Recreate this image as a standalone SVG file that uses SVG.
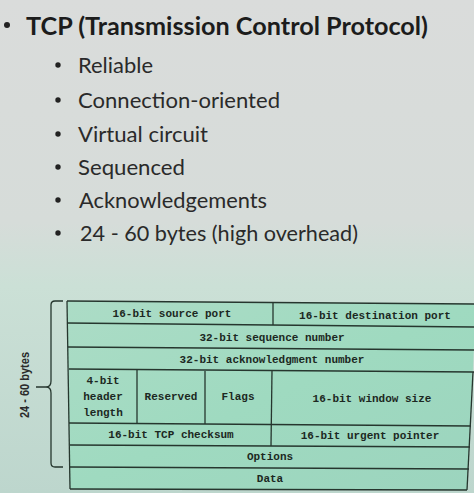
<svg xmlns="http://www.w3.org/2000/svg" width="474" height="493" viewBox="0 0 474 493">
  <defs>
    <linearGradient id="bg" x1="0" y1="0" x2="0" y2="1">
      <stop offset="0" stop-color="#dadcdb"/>
      <stop offset="0.45" stop-color="#d6dcd9"/>
      <stop offset="0.58" stop-color="#cbe0d6"/>
      <stop offset="1" stop-color="#bdd6cd"/>
    </linearGradient>
    <linearGradient id="tbl" x1="0" y1="0" x2="1" y2="1">
      <stop offset="0" stop-color="#acdcc6"/>
      <stop offset="0.5" stop-color="#9fdac0"/>
      <stop offset="1" stop-color="#9cd4be"/>
    </linearGradient>
    <style>
      .title { font-family: Lato, "Liberation Sans", sans-serif; font-weight: bold; font-size: 25px; fill: #1c1c1c; }
      .item { font-family: Lato, "Liberation Sans", sans-serif; font-size: 22px; fill: #2a2a2a; }
      .dot { fill: #222; }
      .cell { font-family: "Liberation Mono", "DejaVu Sans Mono", monospace; font-weight: bold; font-size: 11px; fill: #1c2822; text-anchor: middle; }
      .ln { stroke: #26362e; stroke-width: 1.3; fill: none; }
      .side { font-family: "Liberation Sans", sans-serif; font-weight: bold; font-size: 12px; fill: #2a2a2a; text-anchor: middle; }
    </style>
  </defs>
  <rect x="0" y="0" width="474" height="493" fill="url(#bg)"/>

  <g id="bullets">
    <circle class="dot" cx="7" cy="25" r="3"/>
    <text class="title" x="26" y="35" textLength="402" lengthAdjust="spacingAndGlyphs">TCP (Transmission Control Protocol)</text>
    <circle class="dot" cx="58" cy="65" r="2.7"/>
    <text class="item" x="78" y="73" textLength="75" lengthAdjust="spacingAndGlyphs">Reliable</text>
    <circle class="dot" cx="58" cy="100" r="2.7"/>
    <text class="item" x="78" y="108" textLength="202" lengthAdjust="spacingAndGlyphs">Connection-oriented</text>
    <circle class="dot" cx="58" cy="134" r="2.7"/>
    <text class="item" x="78" y="142" textLength="130" lengthAdjust="spacingAndGlyphs">Virtual circuit</text>
    <circle class="dot" cx="58" cy="167" r="2.7"/>
    <text class="item" x="78" y="175" textLength="107" lengthAdjust="spacingAndGlyphs">Sequenced</text>
    <circle class="dot" cx="58" cy="200" r="2.7"/>
    <text class="item" x="79" y="208" textLength="188" lengthAdjust="spacingAndGlyphs">Acknowledgements</text>
    <circle class="dot" cx="58" cy="233" r="2.7"/>
    <text class="item" x="80" y="241" textLength="278" lengthAdjust="spacingAndGlyphs">24 - 60 bytes (high overhead)</text>
  </g>

  <g id="table">
    <polygon points="67,301 476,304 467,490 70,489" fill="url(#tbl)"/>
    <g id="grid">
      <line class="ln" x1="67" y1="301" x2="476" y2="304"/>
      <line class="ln" x1="67" y1="323" x2="476" y2="327"/>
      <line class="ln" x1="68" y1="347" x2="476" y2="350"/>
      <line class="ln" x1="69" y1="369" x2="474" y2="372"/>
      <line class="ln" x1="69" y1="423" x2="471" y2="426"/>
      <line class="ln" x1="70" y1="445" x2="470" y2="447"/>
      <line class="ln" x1="70" y1="467" x2="469" y2="469"/>
      <line class="ln" x1="70" y1="489" x2="467" y2="490"/>
      <line class="ln" x1="67" y1="301" x2="70" y2="489"/>
      <line class="ln" x1="473" y1="372" x2="467" y2="490"/>
      <line class="ln" x1="273" y1="302" x2="273" y2="325"/>
      <line class="ln" x1="137" y1="370" x2="137" y2="424"/>
      <line class="ln" x1="205" y1="371" x2="205" y2="424"/>
      <line class="ln" x1="272" y1="371" x2="271" y2="446"/>
    </g>
    <g id="fields">
      <text class="cell" x="172" y="317">16-bit source port</text>
      <text class="cell" x="375" y="319">16-bit destination port</text>
      <text class="cell" x="272" y="341">32-bit sequence number</text>
      <text class="cell" x="272" y="363">32-bit acknowledgment number</text>
      <text class="cell" x="103" y="384">4-bit</text>
      <text class="cell" x="103" y="400">header</text>
      <text class="cell" x="103" y="416">length</text>
      <text class="cell" x="171" y="400">Reserved</text>
      <text class="cell" x="238" y="400">Flags</text>
      <text class="cell" x="372" y="402">16-bit window size</text>
      <text class="cell" x="171" y="438">16-bit TCP checksum</text>
      <text class="cell" x="370" y="439">16-bit urgent pointer</text>
      <text class="cell" x="270" y="460">Options</text>
      <text class="cell" x="270" y="482">Data</text>
    </g>
  </g>

  <g id="brace">
    <path class="ln" d="M63,301 L55,301 Q51,301 51,305 L51,381 Q51,387 46,387 L36,387 M46,387 Q51,387 51,393 L51,463 Q51,467 55,467 L63,467"/>
    <text class="side" transform="translate(29,385) rotate(-90)" textLength="66" lengthAdjust="spacingAndGlyphs">24 - 60 bytes</text>
  </g>
</svg>
